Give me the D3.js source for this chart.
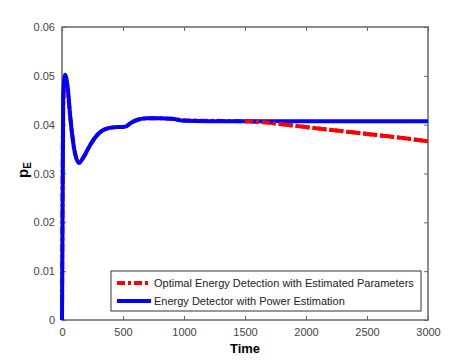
<!DOCTYPE html>
<html><head><meta charset="utf-8">
<script src="https://cdn.jsdelivr.net/npm/d3@7"></script>
<style>body{margin:0;background:#fff}svg{display:block}</style>
</head><body><svg id="c" width="474" height="361"></svg>
<script>
const xTicks = [0, 500, 1000, 1500, 2000, 2500, 3000];
const yTicks = [0, 0.01, 0.02, 0.03, 0.04, 0.05, 0.06];
const seriesNames = ["Optimal Energy Detection with Estimated Parameters", "Energy Detector with Power Estimation"];
const timeBlue = [0, 10, 25, 45, 70, 100, 140, 180, 230, 300, 380, 450, 520, 560, 620, 700, 800, 900, 1000, 1200, 1500, 2000, 2500, 3000];
const peBlue   = [0, 0.046, 0.0502, 0.048, 0.041, 0.035, 0.0322, 0.0335, 0.0358, 0.0382, 0.0393, 0.0395, 0.0396, 0.0403, 0.041, 0.0413, 0.0413, 0.0412, 0.0408, 0.0407, 0.0407, 0.0407, 0.0407, 0.0407];
const timeRed  = [0, 10, 25, 45, 70, 100, 140, 180, 230, 300, 380, 450, 520, 560, 620, 700, 800, 900, 1000, 1200, 1500, 1650, 1800, 2000, 2250, 2500, 2750, 3000];
const peRed    = [0, 0.044, 0.0485, 0.047, 0.041, 0.035, 0.0322, 0.0335, 0.0358, 0.0382, 0.0393, 0.0395, 0.0396, 0.0403, 0.041, 0.0413, 0.0413, 0.0412, 0.0409, 0.0408, 0.0407, 0.0405, 0.0401, 0.0395, 0.0388, 0.0381, 0.0374, 0.0366];

const svg = d3.select("#c");
const L = 62, R = 428, T = 27, B = 320;
const x = d3.scaleLinear().domain([0, 3000]).range([L, R]);
const y = d3.scaleLinear().domain([0, 0.06]).range([B, T]);
const axisCol = "#666";
const font = "'Liberation Sans', Arial, sans-serif";

// box
svg.append("rect").attr("x", L).attr("y", T).attr("width", R - L).attr("height", B - T)
  .attr("fill", "none").attr("stroke", axisCol).attr("stroke-width", 1.5);

const ax = svg.append("g").attr("transform", `translate(0,${B})`)
  .call(d3.axisBottom(x).tickValues(xTicks).tickSize(-4).tickPadding(8).tickFormat(d3.format("d")));
const ax2 = svg.append("g").attr("transform", `translate(0,${T})`)
  .call(d3.axisTop(x).tickValues(xTicks).tickSize(-4).tickFormat(""));
const ay = svg.append("g").attr("transform", `translate(${L},0)`)
  .call(d3.axisLeft(y).tickValues(yTicks).tickSize(-4).tickPadding(7).tickFormat(d => d === 0 ? "0" : d3.format(".2f")(d)));
const ay2 = svg.append("g").attr("transform", `translate(${R},0)`)
  .call(d3.axisRight(y).tickValues(yTicks).tickSize(-4).tickFormat(""));
[ax, ax2, ay, ay2].forEach(g => {
  g.select(".domain").remove();
  g.selectAll("line").attr("stroke", axisCol);
  g.selectAll("text").attr("font-family", font).attr("font-size", 11).attr("fill", "#444");
});

const line = d3.line().x(d => x(d[0])).y(d => y(d[1])).curve(d3.curveMonotoneX);
const redData = timeRed.map((t, i) => [t, peRed[i]]);
const blueData = timeBlue.map((t, i) => [t, peBlue[i]]);

svg.append("path").datum(redData).attr("d", line).attr("fill", "none")
  .attr("stroke", "#ff0000").attr("stroke-width", 4).attr("stroke-dasharray", "8,3,3,3");
svg.append("path").datum(blueData).attr("d", line).attr("fill", "none")
  .attr("stroke", "#0000ff").attr("stroke-width", 4);
// red segment (visible after divergence), redraw over blue
svg.append("path").datum(redData.filter(d => d[0] >= 1500)).attr("d", line).attr("fill", "none")
  .attr("stroke", "#ff0000").attr("stroke-width", 4).attr("stroke-dasharray", "8,3,3,3");

// legend
const lg = svg.append("g");
lg.append("rect").attr("x", 111).attr("y", 271).attr("width", 310).attr("height", 40)
  .attr("fill", "#fff").attr("stroke", "#333").attr("stroke-width", 1);
const ly = [283, 301];
lg.append("line").attr("x1", 117).attr("x2", 151).attr("y1", ly[0]).attr("y2", ly[0])
  .attr("stroke", "#ff0000").attr("stroke-width", 4).attr("stroke-dasharray", "8,3,3,3");
lg.append("line").attr("x1", 117).attr("x2", 151).attr("y1", ly[1]).attr("y2", ly[1])
  .attr("stroke", "#0000ff").attr("stroke-width", 4);
seriesNames.forEach((n, i) => {
  lg.append("text").attr("x", 154).attr("y", ly[i] + 4).text(n)
    .attr("font-family", font).attr("font-size", 11).attr("fill", "#222");
});

// axis labels
svg.append("text").attr("x", 245).attr("y", 353).attr("text-anchor", "middle")
  .attr("font-family", font).attr("font-size", 13).attr("font-weight", "bold").text("Time");
const yl = svg.append("text").attr("transform", "translate(28,170) rotate(-90)").attr("text-anchor", "middle")
  .attr("font-family", font).attr("font-weight", "bold").attr("font-size", 15);
yl.append("tspan").text("p");
yl.append("tspan").attr("font-size", 10).attr("dy", 3).text("E");
</script></body></html>
